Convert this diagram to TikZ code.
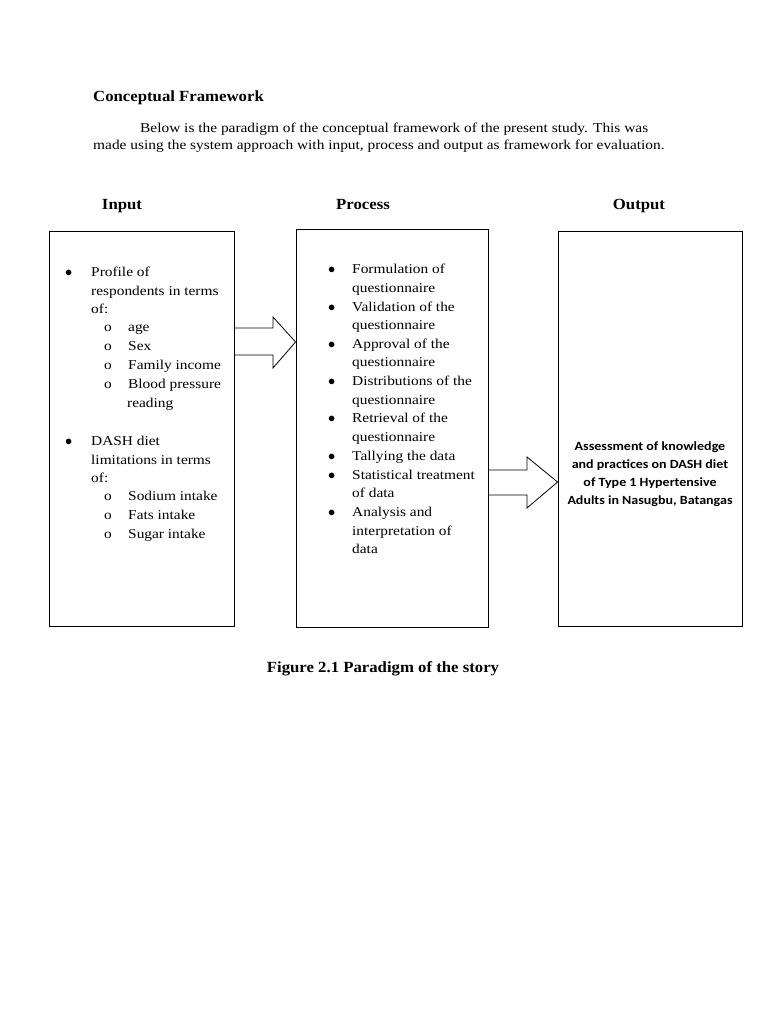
\documentclass[tikz,border=0pt]{standalone}
\usepackage{fontspec}
\setmainfont{Liberation Serif}[FakeStretch=1.14]
\newfontfamily\headfont{Liberation Serif}[FakeStretch=1.08]
\newfontfamily\calfont{Carlito}[FakeStretch=1.12]
\newcommand{\bul}{$\bullet$}
\begin{document}
\begin{tikzpicture}[x=1pt,y=-1pt,
  box/.style={draw=black, line width=0.9pt, inner sep=0pt},
  txt/.style={anchor=base west, inner sep=0pt, font=\fontsize{13.5}{16}\selectfont},
  bl/.style={anchor=base west, inner sep=0pt, font=\fontsize{13.5}{16}\selectfont},
  head/.style={anchor=base, inner sep=0pt, font=\headfont\fontsize{15.5}{18}\selectfont\bfseries},
  blockarrow/.style={draw=black, line width=0.8pt, fill=white, line join=miter}]
\useasboundingbox (0,0) rectangle (768,1024);
% title and paragraph
\node[anchor=base west, inner sep=0pt, font=\headfont\fontsize{15.5}{18}\selectfont\bfseries] (title) at (93,102) {Conceptual Framework};
\node[txt] (par1) at (140,133) {Below is the paradigm of the conceptual framework of the present study. This was};
\node[txt] (par2) at (93,150) {made using the system approach with input, process and output as framework for evaluation.};
% headings
\node[head] (hin) at (122,210) {Input};
\node[head] (hpr) at (363,210) {Process};
\node[head] (hout) at (639,210) {Output};
% boxes
\node[box, minimum width=185pt, minimum height=395pt] (inbox) at (141.5,428.5) {};
\node[box, minimum width=192pt, minimum height=398pt] (prbox) at (392,428) {};
\node[box, minimum width=184pt, minimum height=395pt] (outbox) at (650,428.5) {};
% input box content
\node[bl] (ib1) at (65,276) {\bul};
\node[txt] (i1) at (91,276) {Profile of};
\node[txt] (i2) at (91,295) {respondents in terms};
\node[txt] (i3) at (91,313) {of:};
\node[txt] (is1) at (104,331) {o};
\node[txt] (i4) at (128,331) {age};
\node[txt] (is2) at (104,350) {o};
\node[txt] (i5) at (128,350) {Sex};
\node[txt] (is3) at (104,369) {o};
\node[txt] (i6) at (128,369) {Family income};
\node[txt] (is4) at (104,388) {o};
\node[txt] (i7) at (128,388) {Blood pressure};
\node[txt] (i8) at (127,407) {reading};
\node[bl] (ib2) at (65,445) {\bul};
\node[txt] (i9) at (91,445) {DASH diet};
\node[txt] (i10) at (91,464) {limitations in terms};
\node[txt] (i11) at (91,482) {of:};
\node[txt] (is5) at (104,500) {o};
\node[txt] (i12) at (128,500) {Sodium intake};
\node[txt] (is6) at (104,519) {o};
\node[txt] (i13) at (128,519) {Fats intake};
\node[txt] (is7) at (104,538) {o};
\node[txt] (i14) at (128,538) {Sugar intake};
% process box content
\node[bl] (pb1) at (328,273) {\bul};
\node[txt] (p1) at (352,273) {Formulation of};
\node[txt] (p2) at (352,292) {questionnaire};
\node[bl] (pb2) at (328,311) {\bul};
\node[txt] (p3) at (352,311) {Validation of the};
\node[txt] (p4) at (352,329) {questionnaire};
\node[bl] (pb3) at (328,348) {\bul};
\node[txt] (p5) at (352,348) {Approval of the};
\node[txt] (p6) at (352,366) {questionnaire};
\node[bl] (pb4) at (328,385) {\bul};
\node[txt] (p7) at (352,385) {Distributions of the};
\node[txt] (p8) at (352,404) {questionnaire};
\node[bl] (pb5) at (328,422) {\bul};
\node[txt] (p9) at (352,422) {Retrieval of the};
\node[txt] (p10) at (352,441) {questionnaire};
\node[bl] (pb6) at (328,460) {\bul};
\node[txt] (p11) at (352,460) {Tallying the data};
\node[bl] (pb7) at (328,479) {\bul};
\node[txt] (p12) at (352,479) {Statistical treatment};
\node[txt] (p13) at (352,497) {of data};
\node[bl] (pb8) at (328,516) {\bul};
\node[txt] (p14) at (352,516) {Analysis and};
\node[txt] (p15) at (352,535) {interpretation of};
\node[txt] (p16) at (352,553) {data};
% output box content
\node[inner sep=0pt, align=center, font=\calfont\fontsize{12.5}{17.8}\selectfont\bfseries] (otext) at (650,474)
  {Assessment of knowledge\\and practices on DASH diet\\of Type 1 Hypertensive\\Adults in Nasugbu, Batangas};
% block arrows
\draw[blockarrow] (inbox.east |- 0,328) -- (273,328) -- (273,317) -- (prbox.west |- 0,342) -- (273,368) -- (273,355) -- (inbox.east |- 0,355) -- cycle;
\draw[blockarrow] (prbox.east |- 0,470) -- (527,470) -- (527,457) -- (outbox.west |- 0,482) -- (527,508) -- (527,495) -- (prbox.east |- 0,495) -- cycle;
% caption
\node[head] (cap) at (383,672) {Figure 2.1 Paradigm of the story};
\end{tikzpicture}
\end{document}
